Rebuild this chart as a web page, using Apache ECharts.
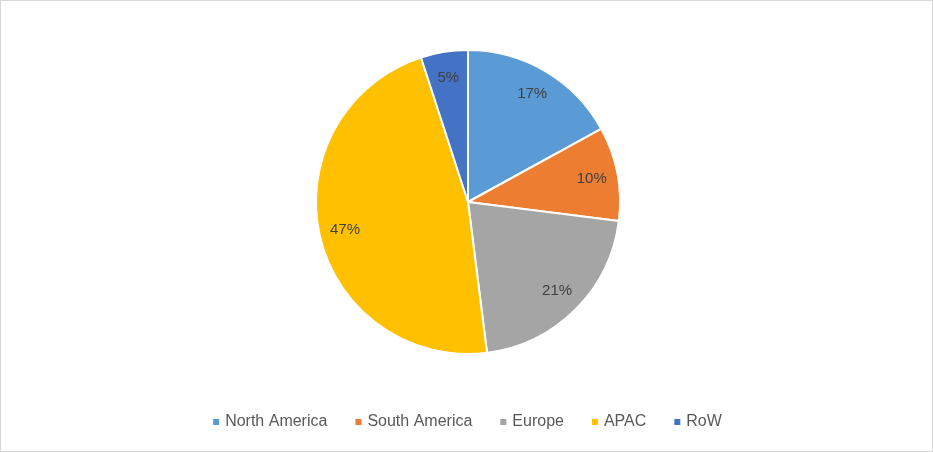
<!DOCTYPE html>
<html><head><meta charset="utf-8">
<script src="https://cdn.jsdelivr.net/npm/echarts@6/dist/echarts.min.js"></script>
<style>html,body{margin:0;padding:0;background:#fff}#c{position:absolute;left:0;top:0;width:931px;height:450px;border:1px solid #d9d9d9}</style>
</head><body><div id="c"></div>
<script>
const categories=['North America','South America','Europe','APAC','RoW'];
const values=[17,10,21,47,5];
const colors=['#5b9bd5','#ed7d31','#a5a5a5','#ffc000','#4472c4'];
const data=categories.map((n,i)=>({name:n,value:values[i]}));
const chart=echarts.init(document.getElementById('c'));
chart.setOption({
  color:colors,
  animation:false,
  legend:{bottom:16,itemWidth:8,itemHeight:8,itemGap:26,icon:'rect',
    textStyle:{color:'#595959',fontSize:16,fontFamily:'Liberation Sans'}},
  series:[
    {type:'pie',center:[467,201],radius:[0,152],startAngle:90,clockwise:true,
     itemStyle:{borderColor:'#fff',borderWidth:2},label:{show:false},labelLine:{show:false},data:data},
    {type:'pie',center:[467,201],radius:[94,152],startAngle:90,clockwise:true,silent:true,
     legendHoverLink:false,itemStyle:{color:'transparent',borderWidth:0},
     label:{show:true,position:'inside',formatter:'{c}%',color:'#404040',fontSize:15,fontFamily:'Liberation Sans'},
     data:data}
  ]
});
</script></body></html>
